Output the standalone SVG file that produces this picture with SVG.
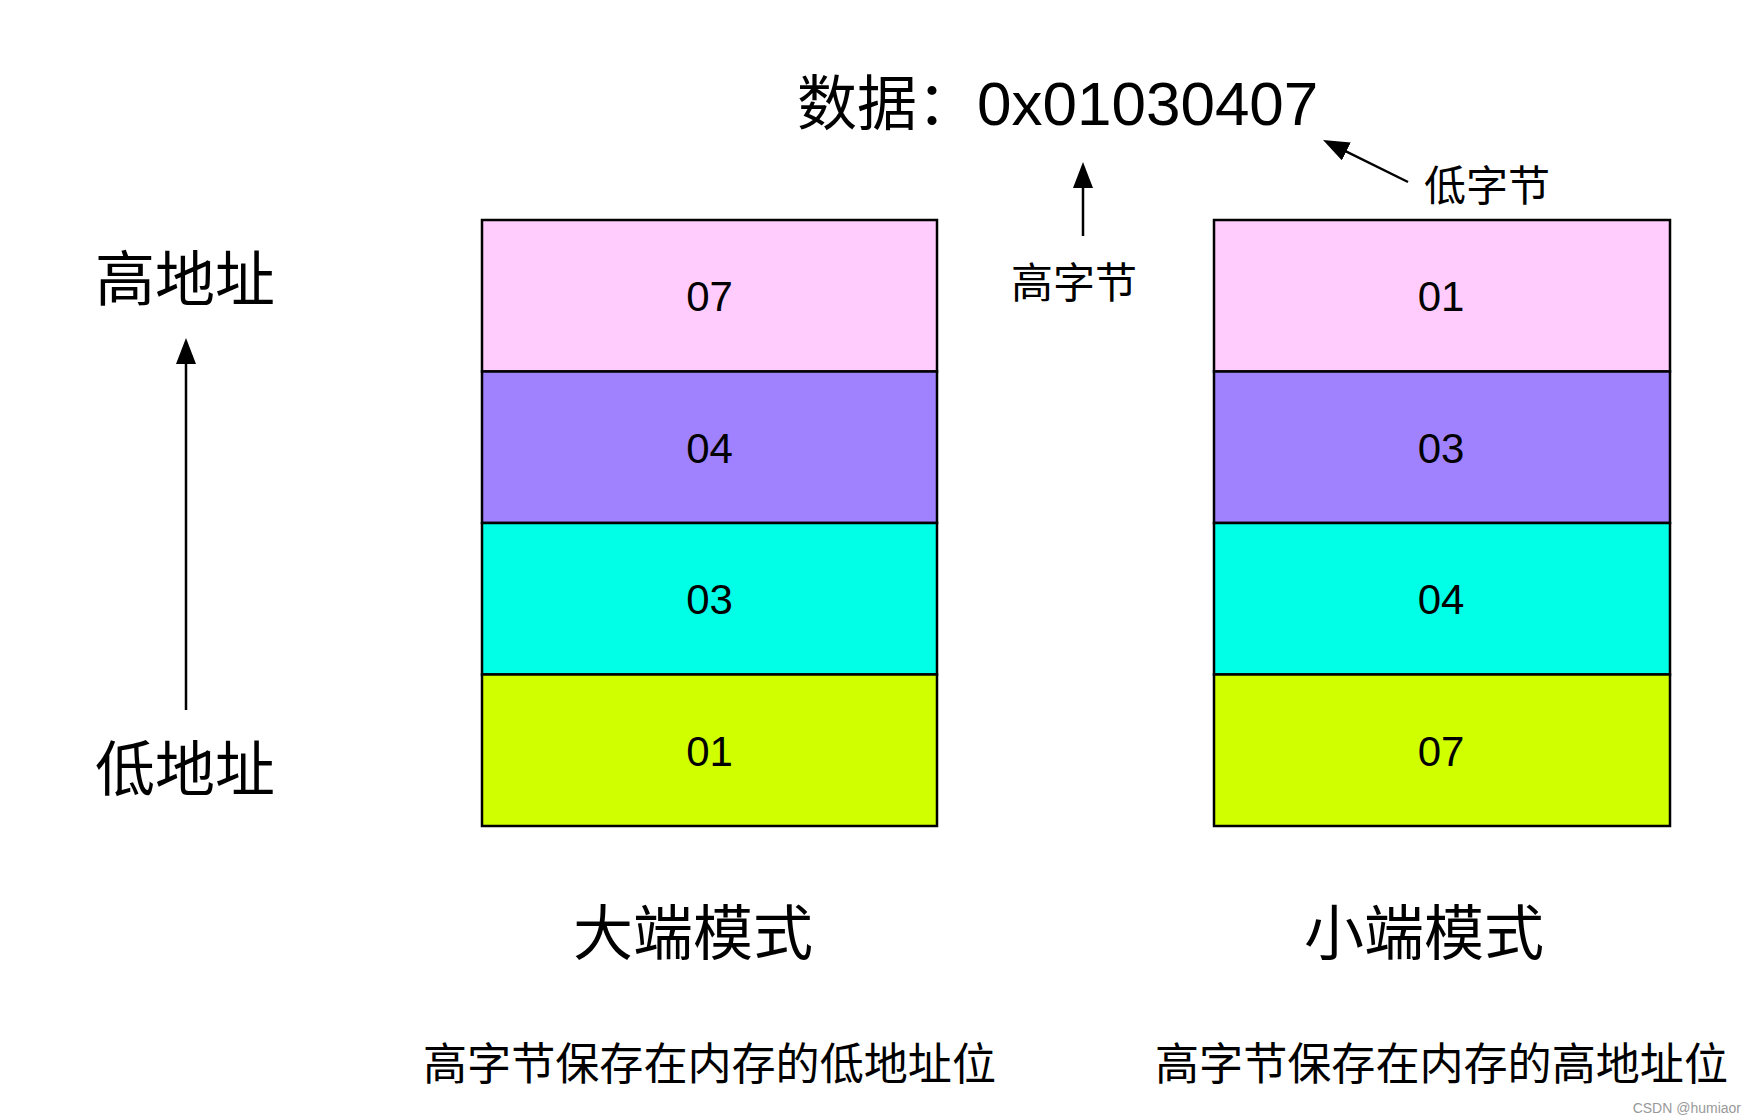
<svg xmlns="http://www.w3.org/2000/svg" width="1755" height="1119" viewBox="0 0 1755 1119">
<style>
  text { font-family: "Liberation Sans", "Noto Sans CJK SC", sans-serif; fill: #000; }
  .cell { stroke: #000; stroke-width: 2.5; }
  .num { font-size: 42px; text-anchor: middle; }
  .big { font-size: 60px; }
  .mid { font-size: 44px; }
  .small { font-size: 42px; }
  .conn { stroke: #000; stroke-width: 2.5; fill: none; marker-end: url(#arrow); }
  .pink { fill: #FFCCFD; }
  .purple { fill: #A082FF; }
  .cyan { fill: #00FFE6; }
  .lime { fill: #D0FF00; }
</style>
<defs>
  <marker id="arrow" viewBox="0 0 26 20" refX="14" refY="10" markerWidth="26" markerHeight="20" markerUnits="userSpaceOnUse" orient="auto">
    <path d="M0,0 L26,10 L0,20 Z" fill="#000"/>
  </marker>
</defs>
<rect width="1755" height="1119" fill="#fff"/>

<g id="title">
  <text x="797" y="125" class="big">数据：<tspan font-size="62">0x01030407</tspan></text>
</g>

<g id="big-endian">
  <rect class="cell pink" x="482" y="220" width="455" height="151.5"/>
  <rect class="cell purple" x="482" y="371.5" width="455" height="151.5"/>
  <rect class="cell cyan" x="482" y="523" width="455" height="151.5"/>
  <rect class="cell lime" x="482" y="674.5" width="455" height="151.5"/>
  <text class="num" x="709.5" y="311">07</text>
  <text class="num" x="709.5" y="463">04</text>
  <text class="num" x="709.5" y="614">03</text>
  <text class="num" x="709.5" y="766">01</text>
</g>

<g id="little-endian">
  <rect class="cell pink" x="1214" y="220" width="456" height="151.5"/>
  <rect class="cell purple" x="1214" y="371.5" width="456" height="151.5"/>
  <rect class="cell cyan" x="1214" y="523" width="456" height="151.5"/>
  <rect class="cell lime" x="1214" y="674.5" width="456" height="151.5"/>
  <text class="num" x="1441" y="311">01</text>
  <text class="num" x="1441" y="463">03</text>
  <text class="num" x="1441" y="614">04</text>
  <text class="num" x="1441" y="766">07</text>
</g>

<g id="high-address"><text class="big" x="95" y="301">高地址</text></g>
<g id="low-address"><text class="big" x="95" y="791">低地址</text></g>
<g id="high-byte"><text class="small" x="1011" y="298">高字节</text></g>
<g id="low-byte"><text class="small" x="1424" y="201">低字节</text></g>
<g id="big-endian-label"><text class="big" x="573" y="955">大端模式</text></g>
<g id="little-endian-label"><text class="big" x="1304" y="955">小端模式</text></g>
<g id="big-endian-desc"><text class="mid" x="423" y="1080" textLength="573" lengthAdjust="spacingAndGlyphs">高字节保存在内存的低地址位</text></g>
<g id="little-endian-desc"><text class="mid" x="1155" y="1080" textLength="573" lengthAdjust="spacingAndGlyphs">高字节保存在内存的高地址位</text></g>
<g id="watermark"><text x="1741" y="1113" font-size="14" text-anchor="end" style="fill:#999">CSDN @humiaor</text></g>

<g id="connectors">
  <line class="conn" x1="186" y1="710" x2="186" y2="350"/>
  <line class="conn" x1="1083" y1="236" x2="1083" y2="174"/>
  <line class="conn" x1="1408" y1="182" x2="1333.8" y2="145.3"/>
</g>
</svg>
